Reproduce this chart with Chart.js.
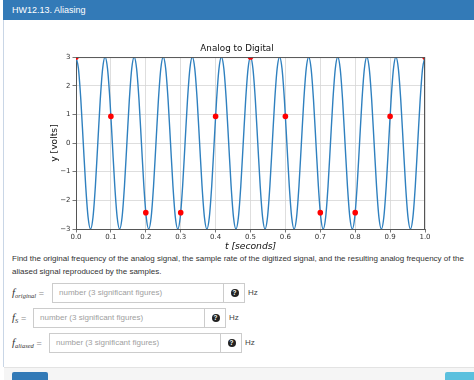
<!DOCTYPE html>
<html>
<head>
<meta charset="utf-8">
<script src="https://cdn.jsdelivr.net/npm/chart.js@4.4.1/dist/chart.umd.min.js"></script>
<style>
  html, body { margin: 0; padding: 0; background: #fff; width: 474px; height: 380px; overflow: hidden; }
  body { font-family: "Liberation Sans", Arial, sans-serif; color: #333; position: relative; }
  .abs { position: absolute; }
  #hdr { left: 3px; top: 0; width: 471px; height: 20px; background: #337ab7; color: #fff; font-size: 9px; line-height: 20px; }
  #hdr span { position: absolute; left: 9px; top: 0; }
  #lb { left: 3px; top: 20px; width: 1px; height: 347px; background: #c9d6e6; }
  #chart { left: 0; top: 30px; }
  .desc { left: 12px; font-size: 8px; white-space: nowrap; color: #333; }
  .lab { left: 12px; font-family: "Liberation Serif", "DejaVu Serif", serif; font-style: italic; font-size: 11px; color: #333; white-space: nowrap; }
  .lab sub { font-size: 6.5px; vertical-align: -2px; }
  .lab .eq { font-style: normal; font-family: "Liberation Sans", Arial, sans-serif; color: #888; font-size: 9px; }
  .box { border: 1px solid #ccc; background: #fff; box-sizing: border-box; }
  .ph { position: absolute; left: 6px; top: 0; font-size: 8px; color: #a0a0a0; white-space: nowrap; }
  .add { position: absolute; top: -1px; right: -1px; width: 22px; border: 1px solid #ccc; background: #fff; box-sizing: border-box; }
  .ic { position: absolute; left: 6.5px; width: 8px; height: 8px; border-radius: 50%; background: #222; color: #fff; font-size: 6.5px; font-weight: bold; text-align: center; line-height: 8px; }
  .hz { font-size: 8px; color: #444; }
  #foot { left: 4px; top: 367px; width: 470px; height: 13px; background: #f5f5f5; border-top: 1px solid #e3e3e3; }
  #b1 { left: 12px; top: 372px; width: 36px; height: 10px; background: #337ab7; border-radius: 2px; }
  #b2 { left: 445px; top: 372px; width: 32px; height: 10px; background: #5bc0de; border-radius: 2px; }
</style>
</head>
<body>
<div id="hdr" class="abs"><span>HW12.13. Aliasing</span></div>
<div id="lb" class="abs"></div>
<canvas id="chart" class="abs" width="474" height="224"></canvas>

<div class="desc abs" style="top:254px">Find the original frequency of the analog signal, the sample rate of the digitized signal, and the resulting analog frequency of the</div>
<div class="desc abs" style="top:267px">aliased signal reproduced by the samples.</div>

<div class="lab abs" style="top:286px">f<sub>original</sub> <span class="eq">=</span></div>
<div class="box abs" style="left:52px; top:283px; width:193px; height:20px; line-height:18px;">
  <span class="ph">number (3 significant figures)</span>
  <div class="add" style="height:20px;"><div class="ic" style="top:5px;">?</div></div>
</div>
<div class="hz abs" style="left:248px; top:288px;">Hz</div>

<div class="lab abs" style="top:311px">f<sub>S</sub> <span class="eq">=</span></div>
<div class="box abs" style="left:33px; top:308px; width:193px; height:20px; line-height:18px;">
  <span class="ph">number (3 significant figures)</span>
  <div class="add" style="height:20px;"><div class="ic" style="top:5px;">?</div></div>
</div>
<div class="hz abs" style="left:229px; top:313px;">Hz</div>

<div class="lab abs" style="top:336px">f<sub>aliased</sub> <span class="eq">=</span></div>
<div class="box abs" style="left:49px; top:333px; width:193px; height:20px; line-height:18px;">
  <span class="ph">number (3 significant figures)</span>
  <div class="add" style="height:20px;"><div class="ic" style="top:5px;">?</div></div>
</div>
<div class="hz abs" style="left:245px; top:338px;">Hz</div>

<div id="foot" class="abs"></div>
<div id="b1" class="abs"></div>
<div id="b2" class="abs"></div>

<script>
// ---- data ----
const chartTitle = "Analog to Digital";
const xTitle = "t [seconds]";
const yTitle = "y [volts]";
const xTicks = [0.0, 0.1, 0.2, 0.3, 0.4, 0.5, 0.6, 0.7, 0.8, 0.9, 1.0];
const yTicks = [-3, -2, -1, 0, 1, 2, 3];

// analog curve, one reading every 1/144 s
const analogStep = 1 / 144;
const analogValues = [
  3, 2.6, 1.5, 0, -1.5, -2.6, -3, -2.6, -1.5, 0, 1.5, 2.6,
  3, 2.6, 1.5, 0, -1.5, -2.6, -3, -2.6, -1.5, 0, 1.5, 2.6,
  3, 2.6, 1.5, 0, -1.5, -2.6, -3, -2.6, -1.5, 0, 1.5, 2.6,
  3, 2.6, 1.5, 0, -1.5, -2.6, -3, -2.6, -1.5, 0, 1.5, 2.6,
  3, 2.6, 1.5, 0, -1.5, -2.6, -3, -2.6, -1.5, 0, 1.5, 2.6,
  3, 2.6, 1.5, 0, -1.5, -2.6, -3, -2.6, -1.5, 0, 1.5, 2.6,
  3, 2.6, 1.5, 0, -1.5, -2.6, -3, -2.6, -1.5, 0, 1.5, 2.6,
  3, 2.6, 1.5, 0, -1.5, -2.6, -3, -2.6, -1.5, 0, 1.5, 2.6,
  3, 2.6, 1.5, 0, -1.5, -2.6, -3, -2.6, -1.5, 0, 1.5, 2.6,
  3, 2.6, 1.5, 0, -1.5, -2.6, -3, -2.6, -1.5, 0, 1.5, 2.6,
  3, 2.6, 1.5, 0, -1.5, -2.6, -3, -2.6, -1.5, 0, 1.5, 2.6,
  3, 2.6, 1.5, 0, -1.5, -2.6, -3, -2.6, -1.5, 0, 1.5, 2.6,
  3
];

// samples (red dots)
const sampleTimes = [0.0, 0.1, 0.2, 0.3, 0.4, 0.5, 0.6, 0.7, 0.8, 0.9, 1.0];
const sampleValues = [3, 0.93, -2.43, -2.43, 0.93, 3, 0.93, -2.43, -2.43, 0.93, 3];

// ---- build ----
const analogPts = analogValues.map((v, i) => ({ x: i * analogStep, y: v }));
const samplePts = sampleTimes.map((t, i) => ({ x: t, y: sampleValues[i] }));

const framePlugin = {
  id: 'frame',
  afterDatasetsDraw(chart) {
    const { ctx, chartArea: a } = chart;
    ctx.save();
    ctx.strokeStyle = '#555';
    ctx.lineWidth = 1;
    ctx.beginPath();
    ctx.moveTo(a.left, a.top + 0.5); ctx.lineTo(a.right, a.top + 0.5);
    ctx.moveTo(a.right - 0.5, a.top); ctx.lineTo(a.right - 0.5, a.bottom);
    ctx.stroke();
    ctx.restore();
  }
};

const tickFont = { family: "'DejaVu Sans', sans-serif", size: 7 };
const fmt = v => (v < 0 ? '\u2212' + Math.abs(v) : String(v));

new Chart(document.getElementById('chart'), {
  type: 'line',
  data: {
    datasets: [
      {
        type: 'scatter',
        data: samplePts,
        showLine: false,
        pointRadius: 2.8,
        pointBackgroundColor: '#ff0000',
        pointBorderWidth: 0,
        clip: 0
      },
      {
        data: analogPts,
        borderColor: '#2f80bf',
        borderWidth: 1.4,
        pointRadius: 0,
        fill: false,
        cubicInterpolationMode: 'monotone'
      }
    ]
  },
  options: {
    responsive: false,
    animation: false,
    layout: { padding: { left: 49, right: 49, top: 12, bottom: 2 } },
    plugins: {
      legend: { display: false },
      tooltip: { enabled: false },
      title: {
        display: true,
        text: chartTitle,
        color: '#111',
        font: { family: "'DejaVu Sans', sans-serif", size: 8.8, weight: 'normal' },
        padding: { top: 1.5, bottom: 3 }
      }
    },
    scales: {
      x: {
        type: 'linear',
        min: 0, max: 1,
        afterBuildTicks: s => { s.ticks = xTicks.map(v => ({ value: v })); },
        afterFit: s => { s.height = 23; },
        ticks: { font: tickFont, color: '#333', padding: 0, maxRotation: 0, autoSkip: false, callback: v => v.toFixed(1) },
        grid: { color: '#d6d6d6', lineWidth: 0.8, tickLength: 3.5, tickColor: '#555', tickWidth: 0.8 },
        border: { color: '#555', width: 1 },
        title: { display: true, text: xTitle, color: '#111', padding: { top: 0, bottom: 0 },
                 font: { family: "'DejaVu Sans', sans-serif", size: 9.2, style: 'italic' } }
      },
      y: {
        min: -3, max: 3,
        afterBuildTicks: s => { s.ticks = yTicks.map(v => ({ value: v })); },
        afterFit: s => { s.width = 27; },
        ticks: { font: tickFont, color: '#333', padding: 2, callback: fmt },
        grid: { color: '#d6d6d6', lineWidth: 0.8, tickLength: 3.5, tickColor: '#555', tickWidth: 0.8 },
        border: { color: '#555', width: 1 },
        title: { display: true, text: yTitle, color: '#111', padding: { top: 0, bottom: 0 },
                 font: { family: "'DejaVu Sans', sans-serif", size: 9.2 } }
      }
    }
  },
  plugins: [framePlugin]
});
</script>
</body>
</html>
